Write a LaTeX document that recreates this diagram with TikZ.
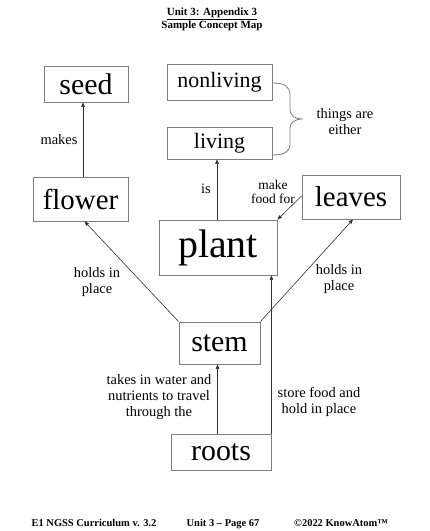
\documentclass[tikz,border=0pt]{standalone}
\usepackage{fontspec}
\setmainfont{Liberation Serif}
\usetikzlibrary{arrows.meta}
\definecolor{boxgray}{RGB}{125,125,125}
\definecolor{linegray}{RGB}{50,50,50}
\tikzset{
  concept/.style={draw=boxgray, line width=0.8pt, rectangle, inner sep=0pt, text=black},
  lbl/.style={align=center, font=\fontsize{14.5}{16}\selectfont, inner sep=0pt},
  arr/.style={draw=linegray, line width=0.6pt, -{Triangle[length=4.5pt,width=3.5pt]}},
  brace/.style={draw=boxgray, line width=0.8pt},
  foot/.style={font=\bfseries\fontsize{10.5}{12}\selectfont, inner sep=0pt, anchor=base},
}
\begin{document}
\begin{tikzpicture}[x=1bp,y=-1bp]
\useasboundingbox (0,0) rectangle (429,531);
\fill[white] (0,0) rectangle (429,531);
% title
\node[font=\bfseries\fontsize{11}{12}\selectfont, inner sep=0pt] (t1) at (212,14) {\underline{Unit 3: Appendix 3}};
\node[font=\bfseries\fontsize{11}{12}\selectfont, inner sep=0pt] (t2) at (212,26) {Sample Concept Map};
% concepts
\node[concept, minimum width=84bp, minimum height=36bp, font=\fontsize{30}{30}\selectfont] (seed) at (86,84) {seed};
\node[concept, minimum width=105bp, minimum height=36bp, font=\fontsize{22}{22}\selectfont] (nonliving) at (219.5,82) {nonliving};
\node[concept, minimum width=105bp, minimum height=32bp, font=\fontsize{22}{22}\selectfont] (living) at (219.5,143) {living};
\node[concept, minimum width=95bp, minimum height=44bp, font=\fontsize{29}{29}\selectfont] (flower) at (80.5,199) {flower};
\node[concept, minimum width=98bp, minimum height=44bp, font=\fontsize{29}{29}\selectfont] (leaves) at (351,197) {leaves};
\node[concept, minimum width=118bp, minimum height=55bp, font=\fontsize{40}{40}\selectfont] (plant) at (218,247.5) {plant};
\node[concept, minimum width=81bp, minimum height=42bp, font=\fontsize{30}{30}\selectfont] (stem) at (219.5,343) {stem};
\node[concept, minimum width=100bp, minimum height=36bp, font=\fontsize{30}{30}\selectfont] (roots) at (221,452) {roots};
% connectors
\draw[arr] ([xshift=2.5bp]flower.north) -- ([xshift=2.5bp]flower.north |- seed.south);
\draw[arr] ([xshift=-1bp]plant.north) -- ([xshift=-1bp]plant.north |- living.south);
\draw[arr] ([yshift=1bp]leaves.west) -- (plant.north east);
\draw[arr] (stem.north west) -- ([xshift=4bp]flower.south);
\draw[arr] (stem.north east) -- ([xshift=2bp]leaves.south);
\draw[arr] ([xshift=-2bp]stem.south |- roots.north) -- ([xshift=-2bp]stem.south);
\draw[arr] (roots.north east) -- (roots.north east |- plant.south);
% brace
\coordinate (btop) at ([yshift=-1bp]nonliving.east);
\coordinate (bbot) at ([yshift=-12bp]living.east);
\coordinate (tip) at (303,119);
\draw[brace] (btop) .. controls (284,83) and (290,86) .. (290,95)
  -- (290,109) .. controls (290,116) and (295,119) .. (tip)
  .. controls (295,119) and (290,122) .. (290,129)
  -- (290,144) .. controls (290,152) and (284,155) .. (bbot);
% labels
\node[lbl] (l1) at (59,140) {makes};
\node[lbl] (l2) at (345,122) {things are\\either};
\node[lbl] (l3) at (206,189) {is};
\node[lbl, font=\fontsize{13.5}{14}\selectfont] (l4) at (273,192) {make\\food for};
\node[lbl] (l5) at (97,282) {holds in\\place};
\node[lbl] (l6) at (339,279) {holds in\\place};
\node[lbl] (l7) at (159,397) {takes in water and\\nutrients to travel\\through the};
\node[lbl] (l8) at (319,402) {store food and\\hold in place};
% footer
\node[foot] (f1) at (94,526) {E1 NGSS Curriculum v. 3.2};
\node[foot] (f2) at (223,526) {Unit 3 -- Page 67};
\node[foot] (f3) at (341,526) {©2022 KnowAtom™};
\end{tikzpicture}
\end{document}
